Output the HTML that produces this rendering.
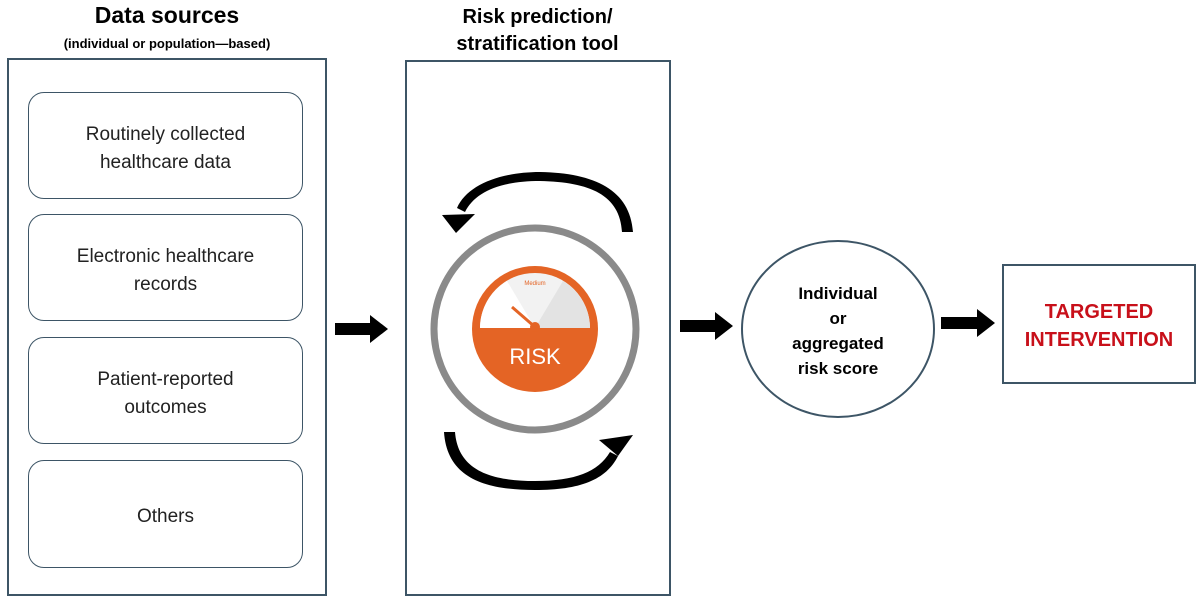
<!DOCTYPE html>
<html><head><style>
body{margin:0;width:1200px;height:600px;background:#fff;font-family:"Liberation Sans",sans-serif;position:relative;overflow:hidden}
.a{position:absolute}
.box{position:absolute;border:2px solid #3d5566;box-sizing:border-box}
.rb{position:absolute;left:28px;width:275px;border:1.5px solid #3d5566;border-radius:16px;box-sizing:border-box;display:flex;align-items:center;justify-content:center;text-align:center;font-size:19px;line-height:28px;color:#222;padding-top:6px}
</style></head><body>
<div class="a" style="left:7px;width:320px;top:2px;text-align:center;font-weight:bold;font-size:23px">Data sources</div>
<div class="a" style="left:7px;width:320px;top:36px;text-align:center;font-weight:bold;font-size:13px">(individual or population—based)</div>
<div class="a" style="left:405px;width:265px;top:4px;text-align:center;font-weight:bold;font-size:20px;line-height:27px">Risk prediction/<br>stratification tool</div>
<div class="box" style="left:7px;top:58px;width:320px;height:538px"></div>
<div class="box" style="left:405px;top:60px;width:266px;height:536px"></div>
<div class="rb" style="top:92px;height:107px">Routinely collected<br>healthcare data</div>
<div class="rb" style="top:214px;height:107px">Electronic healthcare<br>records</div>
<div class="rb" style="top:337px;height:107px">Patient-reported<br>outcomes</div>
<div class="rb" style="top:460px;height:108px">Others</div>
<div class="a" style="left:741px;top:240px;width:194px;height:178px;border:2px solid #3d5566;border-radius:50%;box-sizing:border-box;display:flex;align-items:center;justify-content:center;text-align:center;font-weight:bold;font-size:17px;line-height:25px;padding-top:4px">Individual<br>or<br>aggregated<br>risk score</div>
<div class="box" style="left:1002px;top:264px;width:194px;height:120px;display:flex;align-items:center;justify-content:center;text-align:center;color:#c8101a;font-weight:bold;font-size:20px;line-height:28px;padding-top:4px">TARGETED<br>INTERVENTION</div>
<svg class="a" style="left:0;top:0" width="1200" height="600">
<g fill="#000">
<polygon points="335,323 370,323 370,315 388,329 370,343 370,335 335,335"/>
<polygon points="680,320 715,320 715,312 733,326 715,340 715,332 680,332"/>
<polygon points="941,317 977,317 977,309 995,323 977,337 977,329 941,329"/>
</g>
<circle cx="535" cy="329" r="101" fill="none" stroke="#8a8a8a" stroke-width="7"/>
<circle cx="535" cy="329" r="63" fill="#e46425"/>
<path d="M480,328 A55,55 0 0 1 590,328 Z" fill="#f2f2f2"/>
<path d="M480,328 A55,55 0 0 1 507,281 L535,328 Z" fill="#fff"/>
<path d="M563,281 A55,55 0 0 1 590,328 L535,328 Z" fill="#e3e3e3"/>
<line x1="512" y1="307" x2="535" y2="327" stroke="#e46425" stroke-width="3"/>
<circle cx="535" cy="327" r="5" fill="#e46425"/>
<text x="535" y="364" text-anchor="middle" fill="#fff" font-size="22">RISK</text>
<text x="535" y="285" text-anchor="middle" fill="#e46425" font-size="6">Medium</text>
<path d="M633,232 L622,232 C620,195 590,182 540,181 C500,181 475,192 465,212 L457,208 C467,185 500,172 540,172 C595,173 630,190 633,232 Z" fill="#000"/>
<polygon points="442,215 475,214 456,233" fill="#000"/>
<path d="M444,432 L455,432 C458,470 490,481 535,481 C575,481 598,472 610,452 L618,456 C606,480 580,490 535,490 C485,490 447,478 444,432 Z" fill="#000"/>
<polygon points="633,435 599,440 618,456" fill="#000"/>
</svg>
</body></html>
